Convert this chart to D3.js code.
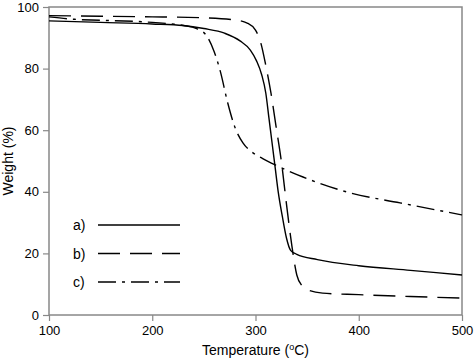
<!DOCTYPE html>
<html>
<head>
<meta charset="utf-8">
<script src="https://cdn.jsdelivr.net/npm/d3@7"></script>
<style>
  body { margin: 0; background: #fff; }
  text { font-family: "Liberation Sans", Arial, sans-serif; fill: #000; }
</style>
</head>
<body>
<div id="chart"></div>
<script>
var xTicks = [100, 200, 300, 400, 500];
var yTicks = [0, 20, 40, 60, 80, 100];

// curve a) solid
var tempA = [100, 150, 200, 230, 250, 270, 285, 295, 301, 306, 310, 313, 316, 319, 322, 326, 330, 334, 340, 360, 400, 450, 500];
var weightA = [95.5, 95, 94.5, 94, 93, 91.5, 89, 86, 82.5, 78, 72, 64, 56, 48, 40, 32, 25, 21, 19.7, 18, 16, 14.5, 13];

// curve b) dashed
var tempB = [100, 150, 200, 250, 280, 292, 300, 305, 310, 315, 320, 325, 330, 335, 340, 345, 350, 365, 400, 450, 500];
var weightB = [97.2, 97, 96.8, 96.5, 95.8, 94.8, 92.5, 88.5, 81, 72, 61, 50, 36, 23, 13, 9.5, 8.3, 7.1, 6.6, 6, 5.5];

// curve c) dash-dot
var tempC = [100, 125, 150, 200, 230, 243, 253, 260, 266, 273, 280, 288, 297, 307, 320, 346, 390, 440, 500];
var weightC = [96.8, 96, 95.7, 95, 94, 93, 90.5, 85.5, 79, 69, 61, 55.8, 52.8, 50.8, 48.6, 44.8, 39.8, 36.4, 32.5];

var labels = ['a)', 'b)', 'c)'];
var dashes = [null, '22,10', '18,6,3,6'];

var series = [
    { temp: tempA, weight: weightA },
    { temp: tempB, weight: weightB },
    { temp: tempC, weight: weightC }
];

var width = 474, height = 361;
var margin = { left: 49, right: 12, top: 7, bottom: 46 };

var svg = d3.select('#chart')
    .append('svg')
    .attr('width', width)
    .attr('height', height);

var x = d3.scaleLinear()
    .domain([100, 500])
    .range([margin.left, width - margin.right]);

var y = d3.scaleLinear()
    .domain([0, 100])
    .range([height - margin.bottom, margin.top]);

var xAxis = svg.append('g')
    .attr('transform', 'translate(0,' + y(0) + ')')
    .call(d3.axisBottom(x).tickValues(xTicks).tickSize(6).tickPadding(5).tickSizeOuter(0));

var yAxis = svg.append('g')
    .attr('transform', 'translate(' + x(100) + ',0)')
    .call(d3.axisLeft(y).tickValues(yTicks).tickSize(6).tickPadding(4).tickSizeOuter(0));

[xAxis, yAxis].forEach(function(ax) {
    ax.select('.domain').remove();
    ax.selectAll('line').attr('stroke', '#888').attr('stroke-width', 1.2);
    ax.selectAll('text').style('font-size', '13px').attr('fill', '#000');
});

// frame
svg.append('rect')
    .attr('x', x(100))
    .attr('y', y(100))
    .attr('width', x(500) - x(100))
    .attr('height', y(0) - y(100))
    .attr('fill', 'none')
    .attr('stroke', '#888')
    .attr('stroke-width', 1.5);

var line = d3.line()
    .x(function(d) { return x(d[0]); })
    .y(function(d) { return y(d[1]); })
    .curve(d3.curveMonotoneX);

series.forEach(function(s, i) {
    svg.append('path')
        .datum(d3.zip(s.temp, s.weight))
        .attr('d', line)
        .attr('fill', 'none')
        .attr('stroke', '#000')
        .attr('stroke-width', 1.4)
        .attr('stroke-dasharray', dashes[i]);
});

// legend
var legend = svg.append('g');
labels.forEach(function(l, i) {
    var ly = 225 + i * 28.5;
    legend.append('text')
        .attr('x', 73)
        .attr('y', ly + 5)
        .style('font-size', '14px')
        .text(l);
    legend.append('line')
        .attr('x1', 98)
        .attr('x2', 180)
        .attr('y1', ly)
        .attr('y2', ly)
        .attr('stroke', '#000')
        .attr('stroke-width', 1.4)
        .attr('stroke-dasharray', dashes[i]);
});

// axis titles
var xt = svg.append('text')
    .attr('x', (x(100) + x(500)) / 2)
    .attr('y', 355)
    .attr('text-anchor', 'middle')
    .style('font-size', '14px');
xt.append('tspan').text('Temperature (');
xt.append('tspan').attr('dy', -5).style('font-size', '9px').text('o');
xt.append('tspan').attr('dy', 5).text('C)');

svg.append('text')
    .attr('transform', 'translate(13,' + (y(50)) + ') rotate(-90)')
    .attr('text-anchor', 'middle')
    .style('font-size', '14px')
    .text('Weight (%)');
</script>
</body>
</html>
